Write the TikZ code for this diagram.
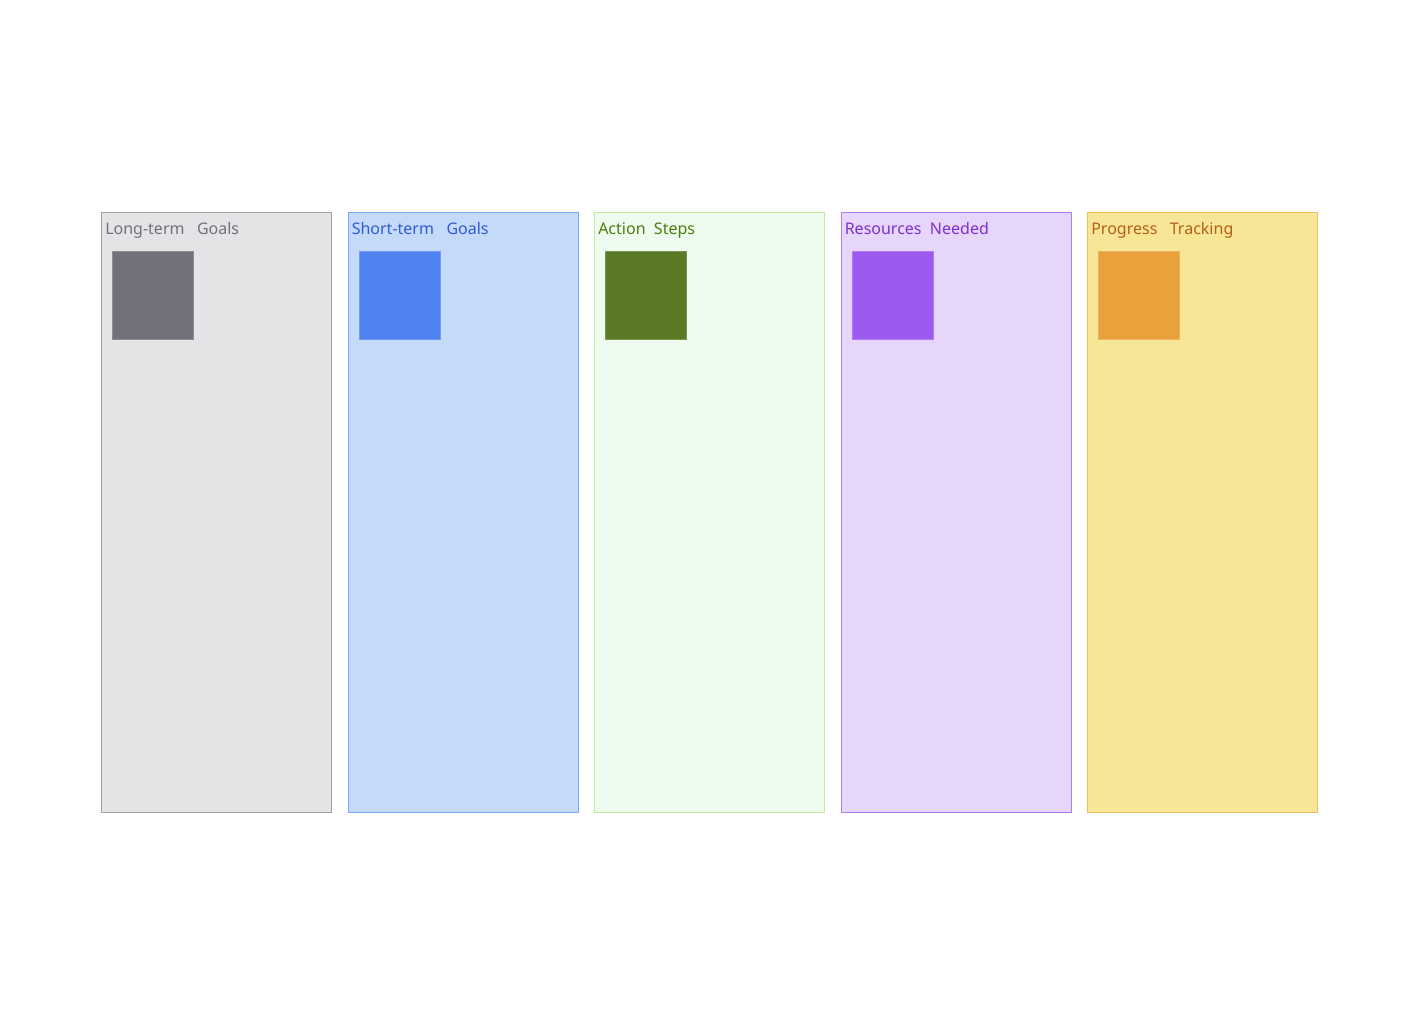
\documentclass[tikz,border=0pt]{standalone}
\usepackage{fontspec}
\setmainfont{Noto Sans}
\usetikzlibrary{positioning}
\definecolor{grayfill}{HTML}{E4E4E7}
\definecolor{grayline}{HTML}{A1A1AA}
\definecolor{graybox}{HTML}{71717A}
\definecolor{graytext}{HTML}{71717A}
\definecolor{bluefill}{HTML}{C5DAF9}
\definecolor{blueline}{HTML}{7AA8F5}
\definecolor{bluebox}{HTML}{4F83EF}
\definecolor{bluetext}{HTML}{2F5BD8}
\definecolor{greenfill}{HTML}{EDFCEE}
\definecolor{greenline}{HTML}{C5E89B}
\definecolor{greenbox}{HTML}{5A7A25}
\definecolor{greentext}{HTML}{4D7C0F}
\definecolor{purplefill}{HTML}{E6D6FA}
\definecolor{purpleline}{HTML}{B07CF0}
\definecolor{purplebox}{HTML}{9D5AEF}
\definecolor{purpletext}{HTML}{7E2FD0}
\definecolor{yellowfill}{HTML}{F8E697}
\definecolor{yellowline}{HTML}{F0C060}
\definecolor{yellowbox}{HTML}{E9A23B}
\definecolor{yellowtext}{HTML}{B45F1A}

\begin{document}
\begin{tikzpicture}[x=0.75pt,y=-0.75pt,
    column/.style={draw=#1line, fill=#1fill, line width=0.75pt, inner sep=0pt,
        minimum width=172.5pt, minimum height=450pt, anchor=north west},
    sticky/.style={fill=#1box, draw=#1box!80!white, line width=0.5pt, inner sep=0pt,
        minimum width=60.75pt, minimum height=66pt, anchor=north west},
    heading/.style={text=#1text, font=\fontsize{12pt}{14pt}\selectfont,
        inner sep=0pt, anchor=base west}]
    \useasboundingbox[fill=white] (0,0) rectangle (1418,1024);
    % five planning columns
    \foreach \name/\clr/\x/\title in {longterm/gray/101/{Long-term\ \ \ Goals},
            shortterm/blue/347.5/{Short-term\ \ \ Goals},
            action/green/594/{Action\ \ Steps},
            resources/purple/840.5/{Resources\ \ Needed},
            progress/yellow/1087/{Progress\ \ \ Tracking}} {
        \node[column=\clr] (\name) at (\x,212) {};
        \node[heading=\clr] (\name-title) at ([xshift=3pt,yshift=-16.5pt]\name.north west) {\title};
        \node[sticky=\clr] (\name-note) at ([xshift=8.25pt,yshift=-29.25pt]\name.north west) {};
    }
\end{tikzpicture}
\end{document}
